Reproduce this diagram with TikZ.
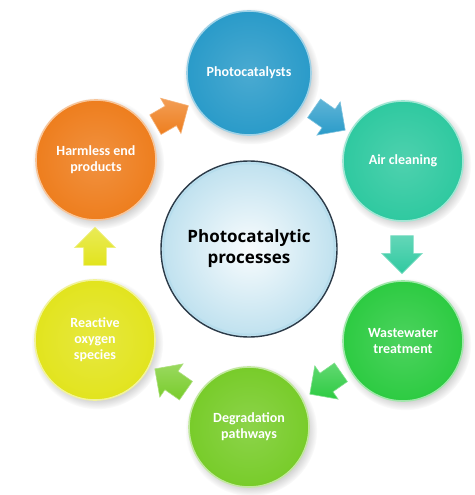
\documentclass[tikz,border=0pt]{standalone}
\usepackage{fontspec}
\setmainfont{Carlito}
\newfontfamily\centerfont{Open Sans}
\usetikzlibrary{shapes.arrows,shadows}
\definecolor{cBlue}{HTML}{2A9BC9}
\definecolor{cTeal}{HTML}{2FC9A0}
\definecolor{cGreen}{HTML}{2DCB42}
\definecolor{cLime}{HTML}{78CC2A}
\definecolor{cYellow}{HTML}{E2E41E}
\definecolor{cOrange}{HTML}{EE7E1E}
\definecolor{cRim}{HTML}{2B3A48}
\tikzset{
  proc/.style={circle, minimum size=120pt, inner sep=0pt, align=center,
    text=white, font=\bfseries\fontsize{14}{16}\selectfont,
    shading=radial, inner color=#1!85!white, outer color=#1,
    draw=#1!45!white, line width=1.6pt,
    circular drop shadow={shadow xshift=2pt, shadow yshift=-3pt, opacity=0.35}},
  flow/.style={single arrow, minimum height=38pt,
    single arrow head extend=9pt, inner xsep=0pt, inner ysep=11pt,
    top color=#1!75!white, bottom color=#1, draw=#1!60!white, line width=0.6pt},
  hub/.style={circle, minimum size=176pt, inner sep=0pt, align=center,
    shading=radial, inner color=white!60!cBlue!8, outer color=cBlue!30!white,
    draw=cRim, line width=1.4pt,
    font=\centerfont\bfseries\fontsize{17}{21}\selectfont}
}
\begin{document}
\begin{tikzpicture}[x=1pt,y=-1pt]
\useasboundingbox (0,0) rectangle (474,495);
\fill[white] (0,0) rectangle (474,495);

\node[hub] (hub) at (249,249) {Photocatalytic\\processes};
\draw[cBlue!35!white, line width=1.5pt] (hub.center) circle (85.5pt);

\node[proc=cBlue, minimum size=124pt] (pc) at (249,73) {Photocatalysts};
\node[proc=cTeal] (air) at (403,161) {Air cleaning};
\node[proc=cGreen] (ww) at (403,341) {Wastewater\\treatment};
\node[proc=cLime] (deg) at (249,427) {Degradation\\pathways};
\node[proc=cYellow] (ros) at (95,340) {Reactive\\oxygen\\species};
\node[proc=cOrange] (hep) at (96,160) {Harmless end\\products};

\node[flow=cOrange, rotate=30] (a1) at (167,118) {};
\node[flow=cBlue, rotate=-35] (a2) at (325,116) {};
\node[flow=cTeal, rotate=-90] (a3) at (402,249) {};
\node[flow=cGreen, rotate=-145] (a4) at (330,380) {};
\node[flow=cLime, rotate=145] (a5) at (175,383) {};
\node[flow=cYellow, rotate=90] (a6) at (95,252) {};
\end{tikzpicture}
\end{document}
